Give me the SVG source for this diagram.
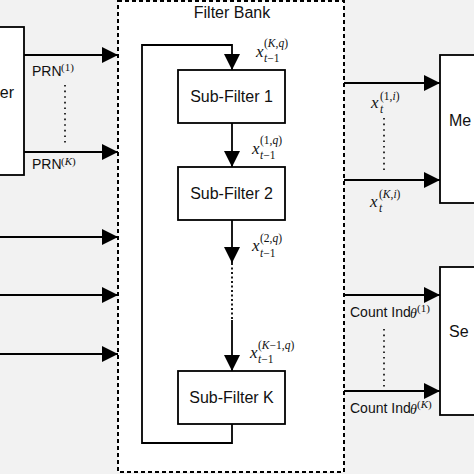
<svg xmlns="http://www.w3.org/2000/svg" width="474" height="474" viewBox="0 0 474 474">
<style>
.box{fill:#fff;stroke:#000;stroke-width:1.8}
.ln{fill:none;stroke:#000;stroke-width:1.8}
.dot{fill:none;stroke:#000;stroke-width:1.6;stroke-dasharray:1.6,4}
.t{font-family:"Liberation Sans",Arial,sans-serif;fill:#111}
.m{font-family:"Liberation Serif","Times New Roman",serif;fill:#111}
.i{font-style:italic}
</style>
<defs>
<marker id="ah" viewBox="0 0 16 16" markerWidth="16" markerHeight="16" markerUnits="userSpaceOnUse" refX="16" refY="8" orient="auto">
<path d="M0,0 L16,8 L0,16 z" fill="#000"/>
</marker>
</defs>
<rect x="0" y="0" width="474" height="474" fill="#f2f2f2"/>
<g id="filter-bank">
<rect x="118" y="1" width="226" height="471" fill="#fff" stroke="#000" stroke-width="2" stroke-dasharray="4,3"/>
<text class="t" x="232" y="18" font-size="16" text-anchor="middle">Filter Bank</text>
</g>
<g id="left-box">
<rect class="box" x="-10" y="27" width="34" height="148"/>
<text class="t" x="14" y="98" font-size="16" text-anchor="end">er</text>
</g>
<g id="sub-filter-1">
<rect class="box" x="178" y="70" width="107" height="53"/>
<text class="t" x="231.5" y="102" font-size="16" text-anchor="middle">Sub-Filter 1</text>
</g>
<g id="sub-filter-2">
<rect class="box" x="178" y="167" width="107" height="53"/>
<text class="t" x="231.5" y="199" font-size="16" text-anchor="middle">Sub-Filter 2</text>
</g>
<g id="sub-filter-k">
<rect class="box" x="178" y="371" width="107" height="53"/>
<text class="t" x="231.5" y="403" font-size="16" text-anchor="middle">Sub-Filter K</text>
</g>
<g id="me-box">
<rect class="box" x="440" y="55" width="50" height="148"/>
<text class="t" x="449" y="126" font-size="16">Me</text>
</g>
<g id="se-box">
<rect class="box" x="440" y="267" width="50" height="148"/>
<text class="t" x="449" y="337" font-size="16">Se</text>
</g>
<g id="connectors">
<line class="ln" x1="24" y1="55" x2="118" y2="55" marker-end="url(#ah)"/>
<line class="ln" x1="24" y1="152" x2="118" y2="152" marker-end="url(#ah)"/>
<line class="dot" x1="65" y1="85" x2="65" y2="143"/>
<line class="ln" x1="0" y1="237" x2="118" y2="237" marker-end="url(#ah)"/>
<line class="ln" x1="0" y1="295" x2="118" y2="295" marker-end="url(#ah)"/>
<line class="ln" x1="0" y1="354" x2="118" y2="354" marker-end="url(#ah)"/>
<polyline class="ln" points="232,424 232,443 142,443 142,45 232,45 232,70" marker-end="url(#ah)"/>
<line class="ln" x1="232" y1="123" x2="232" y2="167" marker-end="url(#ah)"/>
<line class="ln" x1="232" y1="220" x2="232" y2="263" marker-end="url(#ah)"/>
<line class="ln" x1="232" y1="263" x2="232" y2="320" stroke-dasharray="2,2.5"/>
<line class="ln" x1="232" y1="320" x2="232" y2="371" marker-end="url(#ah)"/>
<line class="ln" x1="344" y1="83" x2="440" y2="83" marker-end="url(#ah)"/>
<line class="ln" x1="344" y1="180" x2="440" y2="180" marker-end="url(#ah)"/>
<line class="dot" x1="384" y1="118" x2="384" y2="173"/>
<line class="ln" x1="344" y1="295" x2="440" y2="295" marker-end="url(#ah)"/>
<line class="ln" x1="344" y1="391" x2="440" y2="391" marker-end="url(#ah)"/>
<line class="dot" x1="384" y1="329" x2="384" y2="387"/>
</g>
<g id="labels">
<text class="t" x="32" y="76" font-size="14">PRN</text>
<text class="m" x="61" y="71" font-size="11">(1)</text>
<text class="t" x="32" y="169" font-size="14">PRN</text>
<text class="m" x="61" y="165" font-size="11">(<tspan class="i">K</tspan>)</text>

<text class="m i" x="256" y="57" font-size="17">x</text>
<text class="m" x="264" y="47" font-size="11.5">(<tspan class="i">K</tspan>,<tspan class="i">q</tspan>)</text>
<text class="m" x="264" y="61.5" font-size="11.5"><tspan class="i">t</tspan>−1</text>

<text class="m i" x="252" y="154" font-size="17">x</text>
<text class="m" x="260" y="143.5" font-size="11.5">(1,<tspan class="i">q</tspan>)</text>
<text class="m" x="260" y="158.5" font-size="11.5"><tspan class="i">t</tspan>−1</text>

<text class="m i" x="252" y="251" font-size="17">x</text>
<text class="m" x="260" y="241.5" font-size="11.5">(2,<tspan class="i">q</tspan>)</text>
<text class="m" x="260" y="256.5" font-size="11.5"><tspan class="i">t</tspan>−1</text>

<text class="m i" x="250" y="358" font-size="17">x</text>
<text class="m" x="258" y="349" font-size="11.5">(<tspan class="i">K</tspan>−1,<tspan class="i">q</tspan>)</text>
<text class="m" x="258" y="363" font-size="11.5"><tspan class="i">t</tspan>−1</text>

<text class="m i" x="371" y="108" font-size="17">x</text>
<text class="m" x="380" y="100" font-size="11.5">(1,<tspan class="i">i</tspan>)</text>
<text class="m i" x="380" y="113" font-size="11.5">t</text>

<text class="m i" x="370" y="207" font-size="17">x</text>
<text class="m" x="379" y="198" font-size="11.5">(<tspan class="i">K</tspan>,<tspan class="i">i</tspan>)</text>
<text class="m i" x="379" y="212" font-size="11.5">t</text>

<text class="t" x="350" y="317" font-size="14">Count Ind</text>
<text class="m i" x="410" y="318" font-size="14">θ</text>
<text class="m" x="417" y="312" font-size="11">(1)</text>
<text class="t" x="350" y="413" font-size="14">Count Ind</text>
<text class="m i" x="410" y="414" font-size="14">θ</text>
<text class="m" x="417" y="408" font-size="11">(<tspan class="i">K</tspan>)</text>
</g>
</svg>
